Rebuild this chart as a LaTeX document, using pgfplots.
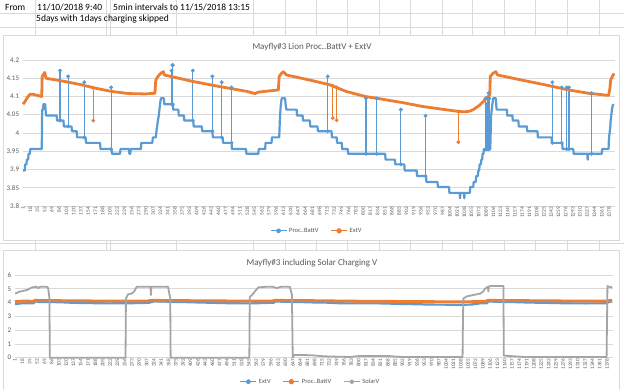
\documentclass[border=0pt]{standalone}
\usepackage{fontspec}
\setmainfont{Carlito}
\usepackage{pgfplots}
\usepackage{pgfplotstable}
\pgfplotsset{compat=1.18}
\definecolor{xblue}{HTML}{5B9BD5}
\definecolor{xorange}{HTML}{ED7D31}
\definecolor{xgray}{HTML}{A5A5A5}
\definecolor{gridc}{HTML}{D9D9D9}
\definecolor{txt}{HTML}{595959}
\definecolor{cell}{HTML}{DADADA}

% Proc..BattV (step levels)
\pgfplotstableread{
x y
1 3.897
5 3.897
6 3.914
9 3.914
10 3.927
13 3.927
14 3.943
17 3.943
18 3.956
45 3.956
46 4.064
48 4.064
49 4.079
53 4.079
54 4.064
55 4.048
80 4.048
81 4.034
96 4.034
97 4.018
115 4.018
116 4.005
127 4.005
128 3.988
148 3.988
149 3.973
182 3.973
183 3.956
209 3.956
210 3.943
229 3.943
230 3.956
250 3.956
251 3.943
253 3.943
254 3.956
278 3.956
279 3.973
305 3.973
306 3.988
313 3.988
315 4.009
318 4.034
320 4.048
323 4.079
325 4.095
332 4.095
333 4.079
353 4.079
354 4.064
366 4.064
367 4.048
379 4.048
380 4.034
401 4.034
402 4.018
421 4.018
422 4.005
446 4.005
447 3.988
470 3.988
471 3.973
491 3.973
492 3.956
525 3.956
526 3.943
554 3.943
555 3.956
570 3.956
571 3.973
585 3.973
586 3.988
603 3.988
605 4.048
607 4.079
609 4.095
617 4.095
618 4.079
620 4.064
644 4.064
645 4.048
658 4.048
659 4.034
675 4.034
676 4.018
693 4.018
694 4.005
726 4.005
727 3.988
738 3.988
739 3.973
750 3.973
751 3.956
764 3.956
765 3.943
852 3.943
853 3.927
875 3.927
876 3.914
897 3.914
898 3.897
926 3.897
927 3.882
948 3.882
949 3.866
975 3.866
976 3.852
1002 3.852
1003 3.836
1027 3.836
1028 3.821
1029 3.836
1037 3.836
1038 3.821
1039 3.836
1051 3.836
1052 3.852
1059 3.852
1060 3.866
1065 3.866
1066 3.882
1070 3.882
1071 3.897
1073 3.897
1074 3.914
1077 3.914
1078 3.927
1080 3.927
1081 3.943
1083 3.943
1084 3.956
1099 3.956
1101 4.047
1104 4.079
1106 4.095
1112 4.095
1113 4.079
1114 4.064
1138 4.064
1139 4.048
1151 4.048
1152 4.034
1165 4.034
1166 4.018
1185 4.018
1186 4.005
1210 4.005
1211 3.988
1243 3.988
1244 3.973
1268 3.973
1269 3.956
1294 3.956
1295 3.943
1327 3.943
1328 3.927
1329 3.943
1361 3.943
1362 3.956
1377 3.956
1378 3.986
1381 4.015
1382 4.034
1385 4.064
1387 4.077
1390 4.077
}\battv

% Proc..BattV single-reading spikes
\pgfplotstableread{
x y
88 4.034
88 4.171
88 nan
107 4.018
107 4.155
107 nan
145 3.988
145 4.139
145 nan
208 3.956
208 4.125
208 nan
350 4.079
350 4.171
350 nan
352 4.079
352 4.186
352 nan
353 4.079
353 4.186
353 nan
400 4.034
400 4.171
400 nan
446 4.005
446 4.155
446 nan
468 3.988
468 4.139
468 nan
491 3.973
491 4.125
491 nan
717 4.005
717 4.155
717 nan
807 3.943
807 4.095
807 nan
832 3.943
832 4.095
832 nan
889 3.914
889 4.064
889 nan
947 3.882
947 4.047
947 nan
1088 3.956
1088 4.095
1088 nan
1090 3.956
1090 4.079
1090 nan
1092 3.956
1092 4.095
1092 nan
1095 3.956
1095 4.109
1095 nan
1097 3.956
1097 4.095
1097 nan
1245 3.973
1245 4.139
1245 nan
1267 3.973
1267 4.125
1267 nan
1279 3.956
1279 4.125
1279 nan
1284 3.956
1284 4.125
1284 nan
1337 3.943
1337 4.109
1337 nan
}\battspk

% ExtV
\pgfplotstableread{
x y
1 4.079
5 4.085
10 4.095
17 4.106
25 4.106
35 4.103
45 4.100
46 4.155
49 4.160
52 4.166
55 4.150
100 4.141
139 4.132
170 4.123
209 4.114
249 4.108
288 4.107
311 4.109
313 4.145
318 4.155
325 4.164
331 4.168
333 4.159
401 4.141
464 4.127
527 4.114
546 4.108
554 4.112
601 4.118
603 4.155
608 4.163
613 4.168
620 4.159
675 4.145
722 4.132
760 4.114
805 4.100
828 4.096
899 4.082
938 4.073
993 4.064
1025 4.059
1040 4.058
1051 4.060
1059 4.064
1075 4.077
1090 4.095
1098 4.105
1099 4.155
1106 4.164
1112 4.168
1116 4.159
1173 4.145
1228 4.132
1283 4.118
1329 4.109
1377 4.103
1380 4.120
1382 4.145
1386 4.155
1390 4.163
}\extv

% ExtV dips
\pgfplotstableread{
x y
166 4.124
166 4.034
166 nan
729 4.129
729 4.041
729 nan
738 4.125
738 4.035
738 nan
1024 4.059
1024 3.975
1024 nan
}\extspk

% SolarV
\pgfplotstableread{
x y
1 4.66
5 4.70
10 4.78
20 4.85
30 4.92
40 5.10
45 5.12
51 5.15
55 5.05
60 5.15
75 5.15
78 5.05
80 4.6
81 4.3
82 0
258 0
259 4.3
264 4.6
272 4.65
278 4.8
284 5.15
316 5.15
317 4.55
318 5.15
357 5.15
360 4.6
362 4.4
363 0
546 0
547 4.4
555 4.65
560 4.85
567 5.1
586 5.15
600 5.15
610 5.05
620 5.15
640 5.15
645 4.6
647 0
650 0.2
690 0.18
720 0.1
780 0.05
800 0.12
870 0.12
900 0.05
1042 0.05
1043 3.04
1044 4.3
1052 4.45
1067 4.55
1083 4.65
1090 4.8
1094 5.0
1101 5.15
1102 4.8
1103 5.15
1106 5.2
1137 5.2
1138 0.15
1187 0.05
1377 0.05
1379 5.2
1386 5.1
1390 5.15
}\solarv

\pgfplotsset{
  xlstyle/.style={
    scale only axis, xmin=0, xmax=1391,
    xtick={1,18,...,1378}, scaled ticks=false,
    /pgf/number format/assume math mode=true,
    /pgf/number format/1000 sep={},
    axis line style={draw=none}, major tick length=0pt,
    ymajorgrids, grid style={gridc, line width=0.6pt},
    xticklabel style={rotate=90, anchor=east, font=\fontsize{5.3}{6}\selectfont, text=txt, inner sep=1pt},
    yticklabel style={font=\fontsize{7}{8}\selectfont, text=txt},
    clip=false,
    legend image code/.code={\draw[##1,line width=1.1pt] (0pt,0pt) -- (16pt,0pt); \fill[##1] (8pt,0pt) circle (1.5pt);},
    legend style={draw=none, fill=none, legend columns=-1, font=\fontsize{6.5}{7}\selectfont, text=txt,
      /tikz/every even column/.append style={column sep=10pt}},
  }
}

\begin{document}
\begin{tikzpicture}
\fill[white] (0pt,0pt) rectangle (624pt,389pt);
\path[use as bounding box] (0pt,0pt) rectangle (624pt,389pt);
% spreadsheet cells
\foreach \yy in {376,362} \draw[cell, line width=0.5pt] (0pt,\yy pt) -- (624pt,\yy pt);
\draw[cell, line width=0.5pt] (0pt,146pt) -- (624pt,146pt);
\foreach \xx in {35,106,110,176,253,285,316,347,379,410,442,472,504,535,567,599} {
  \draw[cell, line width=0.5pt] (\xx pt,389pt) -- (\xx pt,354pt);
  \draw[cell, line width=0.5pt] (\xx pt,149pt) -- (\xx pt,139pt);
}
\node[anchor=west, inner sep=0, font=\fontsize{9.5}{11}\selectfont] at (5pt,381.7pt) {From};
\node[anchor=west, inner sep=0, font=\fontsize{9.5}{11}\selectfont] at (37pt,381.7pt) {11/10/2018 9:40};
\node[anchor=west, inner sep=0, font=\fontsize{9.5}{11}\selectfont] at (113pt,381.7pt) {5min intervals to};
\node[anchor=west, inner sep=0, font=\fontsize{9.5}{11}\selectfont] at (180pt,381.7pt) {11/15/2018 13:15};
\node[anchor=west, inner sep=0, font=\fontsize{9.5}{11}\selectfont] at (36pt,369.7pt) {5days with 1days charging skipped};
% chart boxes
\draw[gridc, fill=white, line width=0.6pt] (3pt,354pt) rectangle (619pt,149pt);
\draw[gridc, fill=white, line width=0.6pt] (3pt,139pt) rectangle (619pt,-2pt);
\node[font=\fontsize{9}{10}\selectfont, text=txt] at (312pt,342pt) {Mayfly\#3 Lion Proc..BattV + ExtV};
\node[font=\fontsize{9}{10}\selectfont, text=txt] at (312pt,126.3pt) {Mayfly\#3 including Solar Charging V};

\begin{axis}[xlstyle,
  at={(22.6pt,183pt)}, anchor=south west, width=591.9pt, height=146pt,
  ymin=3.8, ymax=4.2, ytick={3.8,3.85,3.9,3.95,4,4.05,4.1,4.15,4.2},
  legend style={at={(0.497,-0.17)}, anchor=center},
]
\addplot[xblue, line width=2.2pt, line join=round] table[x=x,y=y] {\battv};
\addlegendentry{Proc..BattV}
\addplot[xblue, line width=1.1pt, unbounded coords=jump, mark=*, mark size=1.3pt, forget plot] table[x=x,y=y] {\battspk};
\addplot[xorange, line width=2.8pt, line join=round] table[x=x,y=y] {\extv};
\addlegendentry{ExtV}
\addplot[xorange, line width=1.1pt, unbounded coords=jump, mark=*, mark size=1.3pt, forget plot] table[x=x,y=y] {\extspk};
\end{axis}

\begin{axis}[xlstyle,
  at={(14.6pt,31.3pt)}, anchor=south west, width=598pt, height=82.7pt,
  ymin=0, ymax=6, ytick={0,1,2,3,4,5,6},
  legend style={at={(0.495,-0.29)}, anchor=center},
]
\addplot[xblue, line width=2.2pt, line join=round] table[x=x,y=y] {\battv};
\addlegendentry{ExtV}
\addplot[xorange, line width=2.8pt, line join=round] table[x=x,y=y] {\extv};
\addlegendentry{Proc..BattV}
\addplot[xgray, line width=1.8pt, line join=round] table[x=x,y=y] {\solarv};
\addlegendentry{SolarV}
\end{axis}
\end{tikzpicture}
\end{document}
